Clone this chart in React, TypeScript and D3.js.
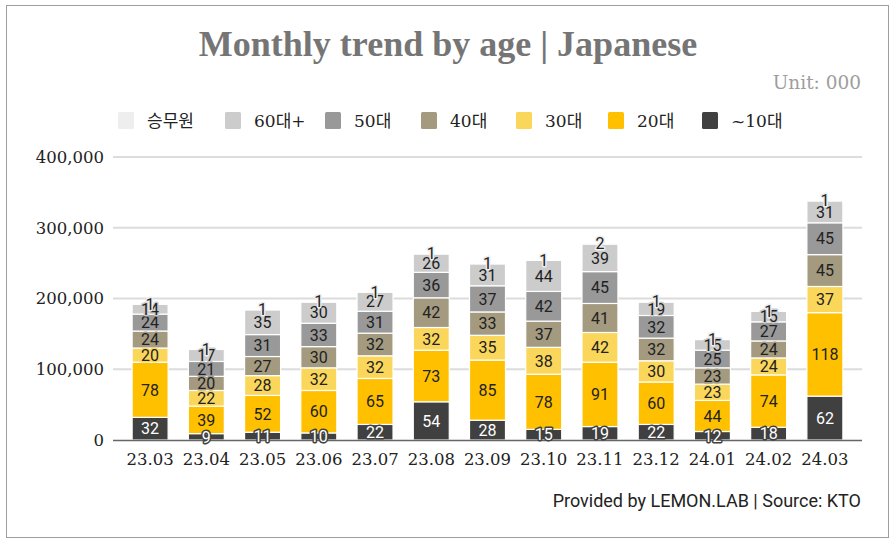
import { useEffect, useRef } from 'react';
import * as d3 from 'd3';

const months = ['23.03', '23.04', '23.05', '23.06', '23.07', '23.08', '23.09', '23.10', '23.11', '23.12', '24.01', '24.02', '24.03'];

// values in thousands, stacked bottom -> top
const teens = [32, 9, 11, 10, 22, 54, 28, 15, 19, 22, 12, 18, 62];
const twenties = [78, 39, 52, 60, 65, 73, 85, 78, 91, 60, 44, 74, 118];
const thirties = [20, 22, 28, 32, 32, 32, 35, 38, 42, 30, 23, 24, 37];
const forties = [24, 20, 27, 30, 32, 42, 33, 37, 41, 32, 23, 24, 45];
const fifties = [24, 21, 31, 33, 31, 36, 37, 42, 45, 32, 25, 27, 45];
const sixtiesPlus = [14, 17, 35, 30, 27, 26, 31, 44, 39, 19, 15, 15, 31];
const crew = [1, 1, 1, 1, 1, 1, 1, 1, 2, 1, 1, 1, 1];

const yTicks = [0, 100000, 200000, 300000, 400000];

const series = [
    { key: '~10대', values: teens, color: '#404040', text: '#ffffff' },
    { key: '20대', values: twenties, color: '#ffc000', text: '#222222' },
    { key: '30대', values: thirties, color: '#fad75b', text: '#222222' },
    { key: '40대', values: forties, color: '#a39a80', text: '#222222' },
    { key: '50대', values: fifties, color: '#999999', text: '#222222' },
    { key: '60대+', values: sixtiesPlus, color: '#cccccc', text: '#222222' },
    { key: '승무원', values: crew, color: '#eeeeee', text: '#222222' },
];

// legend order as shown (top series first)
const legendOrder = ['승무원', '60대+', '50대', '40대', '30대', '20대', '~10대'];
const legendX = [118, 225, 325, 421, 516, 608, 702];

const W = 895;
const H = 543;
const serif = '"DejaVu Serif", "Liberation Serif", "Noto Sans CJK KR", serif';

export default function App() {
    const ref = useRef<SVGSVGElement>(null);

    useEffect(() => {
        if (!ref.current) return;
        const svg = d3.select(ref.current);
        svg.selectAll('*').remove();

        svg.append('rect')
            .attr('x', 6.5).attr('y', 5.5)
            .attr('width', 882).attr('height', 532)
            .attr('fill', '#fff')
            .attr('stroke', '#9e9e9e');

        // Title
        svg.append('text')
            .attr('x', 448).attr('y', 56)
            .attr('text-anchor', 'middle')
            .attr('fill', '#757575')
            .attr('font-family', '"Liberation Serif", serif')
            .attr('font-weight', 'bold')
            .attr('font-size', 36)
            .text('Monthly trend by age | Japanese');

        svg.append('text')
            .attr('x', 861).attr('y', 89)
            .attr('text-anchor', 'end')
            .attr('fill', '#9e9e9e')
            .attr('font-family', serif)
            .attr('font-size', 18.5)
            .text('Unit: 000');

        // Legend
        legendOrder.forEach((k, i) => {
            const s = series.find(d => d.key === k)!;
            const lg = svg.append('g').attr('transform', `translate(${legendX[i]}, 112)`);
            lg.append('rect')
                .attr('width', 16).attr('height', 17).attr('rx', 1.5)
                .attr('fill', s.color);
            lg.append('text')
                .attr('x', 29).attr('y', 14.5)
                .attr('fill', '#222')
                .attr('font-family', serif)
                .attr('font-size', 17)
                .text(k);
        });

        const x = d3.scaleBand<string>()
            .domain(months)
            .range([122, 853])
            .paddingInner(0.36)
            .paddingOuter(0.18);

        const y = d3.scaleLinear().domain([0, 400000]).range([440, 157]);

        // Gridlines + y labels
        const grid = svg.append('g');
        yTicks.forEach(t => {
            if (t > 0) {
                grid.append('line')
                    .attr('x1', 113).attr('x2', 862)
                    .attr('y1', y(t)).attr('y2', y(t))
                    .attr('stroke', '#dcdcdc').attr('stroke-width', 2);
            }
            grid.append('text')
                .attr('x', 104).attr('y', y(t))
                .attr('dy', '0.35em')
                .attr('text-anchor', 'end')
                .attr('fill', '#222')
                .attr('font-family', serif)
                .attr('font-size', 16.5)
                .text(d3.format(',')(t));
        });

        // Stacked data
        const rows = months.map((m, i) => {
            const r: Record<string, number | string> = { month: m };
            series.forEach(s => { r[s.key] = s.values[i] * 1000; });
            return r;
        });
        const stack = d3.stack<Record<string, number | string>>().keys(series.map(s => s.key));
        const layers = stack(rows as any);

        const bars = svg.append('g');
        layers.forEach((layer, li) => {
            const s = series[li];
            layer.forEach((d, i) => {
                bars.append('rect')
                    .attr('x', x(months[i])!)
                    .attr('width', x.bandwidth())
                    .attr('y', y(d[1]))
                    .attr('height', y(d[0]) - y(d[1]))
                    .attr('fill', s.color)
                    .attr('stroke', '#fff')
                    .attr('stroke-width', 1.2);
            });
        });

        // baseline
        svg.append('line')
            .attr('x1', 113).attr('x2', 862)
            .attr('y1', 440.5).attr('y2', 440.5)
            .attr('stroke', '#666').attr('stroke-width', 1.5);

        // labels
        const labels = svg.append('g')
            .attr('font-family', 'Roboto, sans-serif')
            .attr('font-size', 16)
            .attr('text-anchor', 'middle');
        layers.forEach((layer, li) => {
            const s = series[li];
            layer.forEach((d, i) => {
                labels.append('text')
                    .attr('x', x(months[i])! + x.bandwidth() / 2)
                    .attr('y', (y(d[0]) + y(d[1])) / 2)
                    .attr('dy', '0.36em')
                    .attr('fill', s.text)
                    .attr('stroke', s.color)
                    .attr('stroke-width', 3)
                    .attr('stroke-linejoin', 'round')
                    .attr('paint-order', 'stroke')
                    .text(s.values[i]);
            });
        });

        // x labels
        svg.append('g').selectAll('text')
            .data(months)
            .join('text')
            .attr('x', d => x(d)! + x.bandwidth() / 2)
            .attr('y', 465)
            .attr('text-anchor', 'middle')
            .attr('fill', '#222')
            .attr('font-family', serif)
            .attr('font-size', 16.5)
            .text(d => d);

        svg.append('text')
            .attr('x', 861).attr('y', 507)
            .attr('text-anchor', 'end')
            .attr('fill', '#222')
            .attr('font-family', 'Roboto, sans-serif')
            .attr('font-size', 18)
            .text('Provided by LEMON.LAB | Source: KTO');
    }, []);

    return (
        <svg
            ref={ref}
            width={W}
            height={H}
            style={{ position: 'absolute', left: 0, top: 0, background: '#fff' }}
        />
    );
}
